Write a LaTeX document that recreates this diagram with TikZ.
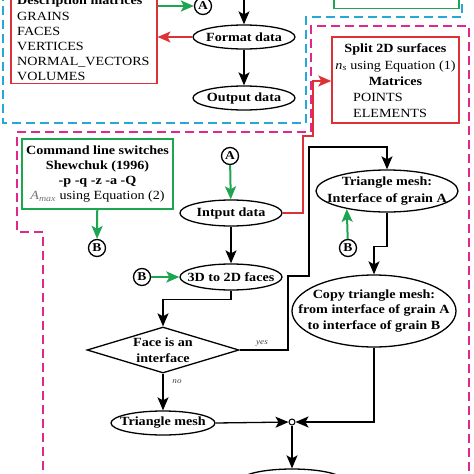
\documentclass[tikz,border=0pt]{standalone}
\usepackage{fontspec}
\setmainfont[FakeStretch=1.13]{Liberation Serif}
\usetikzlibrary{shapes.geometric,arrows.meta}
\definecolor{rd}{RGB}{220,50,55}
\definecolor{gn}{RGB}{30,165,80}
\definecolor{cy}{RGB}{40,168,216}
\definecolor{mg}{RGB}{222,40,140}
\begin{document}
\begin{tikzpicture}[x=1pt,y=-1pt,font=\fontsize{12.5}{15}\selectfont,
  ell/.style={draw, ellipse, line width=1.3pt, inner sep=0pt},
  lbl/.style={font=\fontsize{12.5}{15.5}\selectfont\bfseries, align=center, inner sep=0pt},
  conn/.style={draw, circle, line width=1.3pt, inner sep=0pt, minimum size=17pt, font=\fontsize{12}{12}\selectfont\bfseries},
  jnc/.style={draw, circle, fill=white, line width=1pt, minimum size=6pt, inner sep=0pt},
  arr/.style={line width=1.3pt, -{Stealth[length=13pt,width=11pt,inset=3pt]}},
  garr/.style={arr, draw=gn, line width=2pt},
  rarr/.style={arr, draw=rd, line width=1.6pt},
  rline/.style={arr, draw=rd, line width=1.1pt},
  redbox/.style={draw=rd, line width=1.5pt, inner sep=0pt},
  grnbox/.style={draw=gn, line width=1.5pt, inner sep=0pt},
  cyd/.style={draw=cy, line width=2pt, dash pattern=on 9pt off 5pt},
  mgd/.style={draw=mg, line width=2pt, dash pattern=on 9pt off 5pt},
  txt/.style={inner sep=0pt, anchor=base west},
  txc/.style={inner sep=0pt, anchor=base},
  small/.style={inner sep=0pt, font=\fontsize{8}{9}\selectfont\itshape, text=black!75}]
\path[use as bounding box] (0,0) rectangle (474,474);
\clip (0,0) rectangle (474,474);

% dashed regions
\draw[cyd] (462,-10) -- (462,17) -- (306,17) -- (306,123) -- (3,123) -- (3,-10);
\draw[mgd] (469,485) -- (469,26) -- (311,26) -- (311,132) -- (17,132) -- (17,232) -- (43,232) -- (43,485);

% top-left description box
\node[redbox, minimum width=146pt, minimum height=104pt, anchor=south west] (desc) at (10,84) {};
\node[txt] (d0) at (17,4) {\bfseries Description matrices};
\node[txt] (d1) at (17,20) {GRAINS};
\node[txt] (d2t) at (17,35) {FACES};
\node[txt] (d3t) at (17,50) {VERTICES};
\node[txt] (d4) at (17,65) {NORMAL\_VECTORS};
\node[txt] (d5) at (17,80) {VOLUMES};

% top-right green box (cut off)
\node[grnbox, minimum width=125pt, minimum height=40pt, anchor=south west] (gbox) at (333,9) {};

% top flow
\node[conn] (A1) at (203,6) {A};
\draw[garr] (desc.east |- A1) -- (A1);
\node[ell, minimum width=102pt, minimum height=24pt, label={[lbl]center:Format data}] (fmt) at (244,37) {};
\node[ell, minimum width=102pt, minimum height=24pt, label={[lbl]center:Output data}] (out) at (244,98) {};
\coordinate (top) at (244,-3);
\draw[arr] (top) -- (fmt);
\draw[rarr] (fmt) -- (desc.east |- fmt);
\draw[arr] (fmt) -- (out);

% split box
\node[redbox, minimum width=127pt, minimum height=86pt] (split) at (395.5,80) {};
\node[txc] (s1) at (395.5,52) {\bfseries Split 2D surfaces};
\node[txc] (s2) at (395.5,69) {\textit{n}\textsubscript{\textit{s}} using Equation (1)};
\node[txc] (s3) at (395.5,85) {\bfseries Matrices};
\node[txt] (s4) at (353,101) {POINTS};
\node[txt] (s5) at (353,117) {ELEMENTS};

% command box
\node[grnbox, minimum width=151pt, minimum height=70pt, align=center,
      font=\fontsize{12.5}{15.3}\selectfont] (cmd) at (97.5,174)
  {\textbf{Command line switches}\\\textbf{Shewchuk (1996)}\\\textbf{-p -q -z -a -Q}\\
   {\color{black!55}\textit{A}\textsubscript{\textit{max}}} using Equation (2)};
\node[conn] (B1) at (97,248) {B};
\draw[garr] (cmd) -- (B1);

% main flow
\node[conn] (A2) at (230,156) {A};
\node[ell, minimum width=102pt, minimum height=26pt, label={[lbl]center:Intput data}] (inp) at (231,213) {};
\node[ell, minimum width=102pt, minimum height=26pt, label={[lbl]center:3D to 2D faces}] (d3) at (231,277) {};
\node[conn] (B2) at (142,277) {B};
\draw[garr] (A2) -- (inp);
\draw[arr] (inp) -- (d3);
\draw[garr] (B2) -- (d3);
\draw[rline] (inp.east) -| (303,136) -| (313,81) -- (split.west |- 313,81);

\node[draw, diamond, minimum width=152pt, minimum height=46pt, inner sep=0pt, line width=1.3pt,
      label={[lbl]center:Face is an\\interface}] (dia) at (163,350) {};
\draw[arr] (d3.south) -- ++(0,9) -| (dia.north);

\node[ell, minimum width=142pt, minimum height=42pt, label={[lbl, font=\fontsize{12.5}{17}\selectfont\bfseries]center:Triangle mesh:\\Interface of grain A}] (tmA) at (387,191) {};
\draw[arr] (dia.east) -| (288,276) -| (309,147) -| (tmA.north);
\node[small] (yes) at (262,343) {yes};

\node[conn] (B3) at (348,248) {B};
\draw[garr] (B3) -- (tmA.204);

\node[ell, minimum width=164pt, minimum height=72pt, label={[lbl]center:Copy triangle mesh:\\from interface of grain A\\to interface of grain B}] (copy) at (374,311) {};
\draw[arr] (tmA.south) -- ++(0,34) -| (copy.north);

\node[ell, minimum width=104pt, minimum height=24pt, label={[lbl]center:Triangle mesh}] (tri) at (163,423) {};
\draw[arr] (dia.south) -- (tri);
\node[small] (no) at (177,382) {no};

\node[jnc] (jn) at (292,422) {};
\draw[arr] (tri.east) -- (jn);
\draw[arr] (copy.south) |- (jn);
\node[ell, minimum width=104pt, minimum height=24pt, label={[lbl]center:2D to 3D faces}] (d2) at (292,481) {};
\draw[arr] (jn) -- (d2);
\end{tikzpicture}
\end{document}
